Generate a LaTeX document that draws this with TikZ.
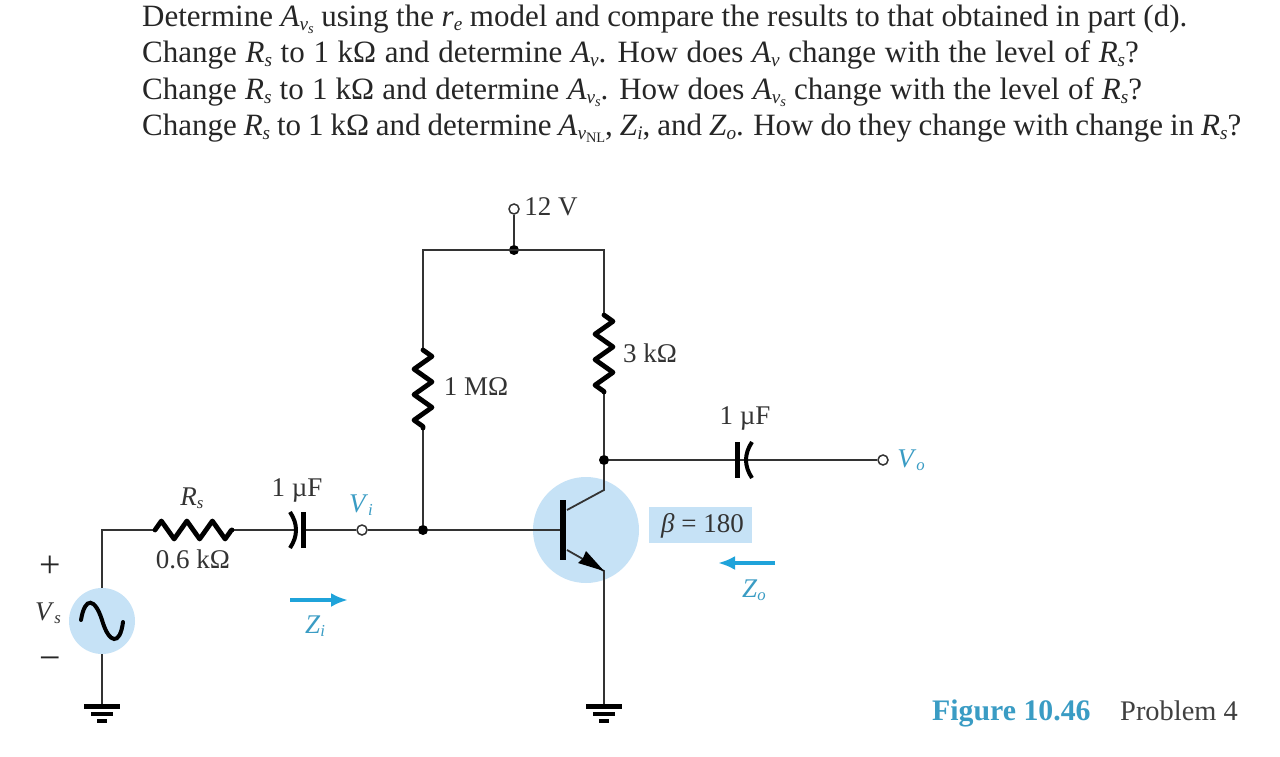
\documentclass[tikz,border=0pt]{standalone}
\usepackage{fontspec}
\setmainfont{Liberation Serif}
\usetikzlibrary{decorations.pathmorphing,arrows.meta}
\definecolor{figblue}{HTML}{1FA3DA}
\definecolor{txtblue}{HTML}{3A9CC4}
\definecolor{padblue}{HTML}{C6E2F6}
\newcommand{\ital}[2]{\textit{#1}\raisebox{-0.25ex}{\scalebox{0.62}{\textit{#2}}}}
\newcommand{\Avs}{\textit{A}\raisebox{-0.25ex}{\scalebox{0.62}{\textit{v}\raisebox{-0.3ex}{\scalebox{0.75}{\textit{s}}}}}}
\newcommand{\Avnl}{\textit{A}\raisebox{-0.25ex}{\scalebox{0.62}{\textit{v}\raisebox{-0.3ex}{\scalebox{0.75}{NL}}}}}
\begin{document}
\begin{tikzpicture}[x=1pt,y=-1pt]
\tikzstyle{wire}=[line width=1.8pt,black!80]
\tikzstyle{res}=[line width=4.8pt,line join=round,line cap=round,decorate,decoration={zigzag,segment length=25.5pt,amplitude=9pt}]
\tikzstyle{plate}=[line width=5pt]
\tikzstyle{dot}=[circle,fill=black,inner sep=0pt,minimum size=10pt]
\tikzstyle{term}=[circle,draw=black!80,fill=white,line width=1.5pt,inner sep=0pt,minimum size=10pt]
\tikzstyle{label}=[font=\fontsize{27}{27}\selectfont,text=black!80,inner sep=0pt]
\tikzstyle{sign}=[font=\fontsize{38}{38}\selectfont,text=black!85,inner sep=0pt]
\tikzstyle{blue}=[font=\fontsize{27}{27}\selectfont,text=txtblue,inner sep=0pt]
\tikzstyle{line}=[font=\fontsize{31}{31}\selectfont,text=black!85,inner sep=0pt,anchor=base west]
\tikzstyle{zarrow}=[figblue,line width=3.6pt,-{Latex[length=17pt,width=14pt]}]
\useasboundingbox (0,0) rectangle (1280,757);
\fill[white] (0,0) rectangle (1280,757);

% text above the circuit
\node[line] (l1) at (142,27) {\spaceskip=7.6pt Determine \Avs{} using the \ital{r}{e} model and compare the results to that obtained in part (d).};
\node[line] (l2) at (142,63) {\spaceskip=8.7pt Change \ital{R}{s} to 1 kΩ and determine \ital{A}{v}. How does \ital{A}{v} change with the level of \ital{R}{s}?};
\node[line] (l3) at (142,100) {\spaceskip=8.2pt Change \ital{R}{s} to 1 kΩ and determine \Avs. How does \Avs{} change with the level of \ital{R}{s}?};
\node[line] (l4) at (142,136) {\spaceskip=6.9pt Change \ital{R}{s} to 1 kΩ and determine \Avnl, \ital{Z}{i}, and \ital{Z}{o}. How do they change with change in \ital{R}{s}?};

% light blue pads
\fill[padblue] (586,530) circle (53);
\node[fill=padblue,minimum width=103pt,minimum height=36pt,inner sep=0pt] (beta) at (700.5,525) {};
\node[label] (betatxt) at (702.5,526) {\textit{β} = 180};
\node[circle,fill=padblue,minimum size=66pt,inner sep=0pt] (vs) at (102,621) {};

% nodes
\node[term] (vcc) at (514,209) {};
\node[dot] (top) at (514,250) {};
\node[dot] (base) at (423,530) {};
\node[dot] (out) at (604,460) {};
\node[term] (vi) at (362,530) {};
\node[term] (vo) at (883,460) {};
\coordinate (tl) at (423,250);
\coordinate (tr) at (604,250);
\coordinate (r1a) at (423,350);
\coordinate (r1b) at (423,428);
\coordinate (r2a) at (604,315);
\coordinate (r2b) at (604,392);
\coordinate (bl) at (102,530);
\coordinate (rsa) at (155,530);
\coordinate (rsb) at (232,530);
\coordinate (c1) at (296,530);
\coordinate (c2) at (745,460);
\coordinate (bar) at (563,530);
\coordinate (cin) at (567,510);
\coordinate (cout) at (604,490);
\coordinate (ein) at (567,550);
\coordinate (eout) at (604,571);
\coordinate (g1) at (102,704);
\coordinate (g2) at (604,704);

% wires
\draw[wire] (vcc) -- (top);
\draw[wire] (r1a) -- (tl) -- (tr) -- (r2a);
\draw[wire] (r1b) -- (base);
\draw[wire] (r2b) -- (out) -- (cout) -- (cin);
\draw[wire] (ein) -- (eout) -- (g2);
\draw[wire] (vs) -- (bl) -- (rsa);
\draw[wire] (rsb) -- (c1);
\draw[wire] (303,530) -- (vi);
\draw[wire] (vi) -- (base) -- (bar);
\draw[wire] (out) -- (c2);
\draw[wire] (748,460) -- (vo);
\draw[wire] (vs) -- (g1);

% resistors
\draw[res] (r1a) -- (r1b);
\draw[res] (r2a) -- (r2b);
\draw[res] (rsa) -- (rsb);

% capacitors
\draw[plate] (303,512) -- (303,548);
\draw[line width=4pt] (290,512) .. controls (298,524) and (298,536) .. (290,548);
\draw[plate] (737,442) -- (737,478);
\draw[line width=4pt] (752,442) .. controls (744,454) and (744,466) .. (752,478);

% transistor
\draw[line width=6pt] (563,500) -- (563,560);
\fill (604,571) -- (578,563) -- (583,558) -- (586,551) -- cycle;

% source
\draw[line width=4pt,line cap=round] (81,620) .. controls (85,596) and (95,598) .. (102,620) .. controls (109,644) and (120,646) .. (123,622);

% grounds
\foreach \g in {g1,g2} {
\fill ([xshift=-18pt]\g) rectangle ([xshift=18pt,yshift=-5pt]\g);
\fill ([xshift=-11pt,yshift=-8pt]\g) rectangle ([xshift=11pt,yshift=-12pt]\g);
\fill ([xshift=-5pt,yshift=-15pt]\g) rectangle ([xshift=5pt,yshift=-19pt]\g);
}

% labels
\node[label] (lv) at (551,207) {12 V};
\node[label] (lr1) at (476,387) {1 MΩ};
\node[label] (lr2) at (650,353) {3 kΩ};
\node[label] (lc2) at (745,418) {1 µF};
\node[label] (lc1) at (297,490) {1 µF};
\node[label] (lrs) at (192,498) {\ital{R}{s}};
\node[label] (lrv) at (193,559) {0.6 kΩ};
\node[sign] (plus) at (50,567) {+};
\node[sign] (minus) at (50,664) {−};
\node[label] (lvs) at (48,613) {\ital{V}{s}};
\node[blue] (lvi) at (361,505) {\ital{V}{i}};
\node[blue] (lvo) at (911,460) {\ital{V}{o}};
\node[blue] (lzi) at (315,626) {\ital{Z}{i}};
\node[blue] (lzo) at (754,590) {\ital{Z}{o}};

% impedance arrows
\coordinate (zia) at (290,600);
\coordinate (zib) at (348,600);
\coordinate (zoa) at (775,563);
\coordinate (zob) at (718,563);
\draw[zarrow] (zia) -- (zib);
\draw[zarrow] (zoa) -- (zob);

% caption
\node[font=\bfseries\fontsize{29.8}{29.8}\selectfont,text=txtblue,inner sep=0pt,anchor=base west] (fig) at (932,720) {Figure 10.46};
\node[font=\fontsize{28.4}{28.4}\selectfont,text=black!75,inner sep=0pt,anchor=base west] (prob) at (1120,720) {Problem 4};
\end{tikzpicture}
\end{document}
